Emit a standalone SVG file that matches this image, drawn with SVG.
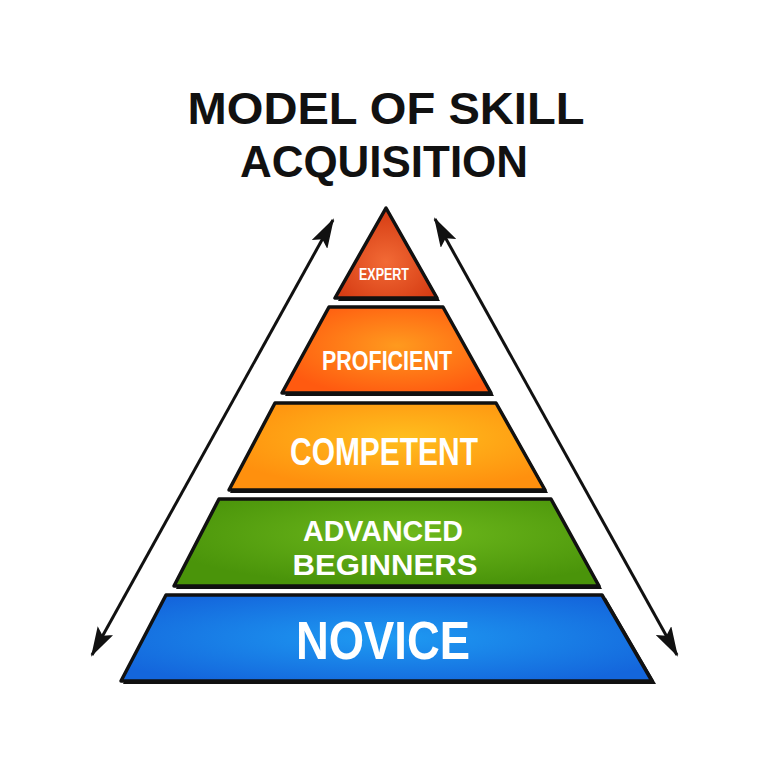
<svg xmlns="http://www.w3.org/2000/svg" width="768" height="768" viewBox="0 0 768 768">
  <defs>
    <radialGradient id="gExpert" cx="0.5" cy="0.6" r="0.6">
      <stop offset="0" stop-color="#F26A35"/>
      <stop offset="1" stop-color="#D43A12"/>
    </radialGradient>
    <radialGradient id="gProf" cx="0.55" cy="0.45" r="0.6">
      <stop offset="0" stop-color="#FF9A1E"/>
      <stop offset="1" stop-color="#FF5A10"/>
    </radialGradient>
    <radialGradient id="gComp" cx="0.55" cy="0.4" r="0.6">
      <stop offset="0" stop-color="#FFBE1E"/>
      <stop offset="1" stop-color="#FF900E"/>
    </radialGradient>
    <radialGradient id="gAdv" cx="0.55" cy="0.4" r="0.6">
      <stop offset="0" stop-color="#6DB81C"/>
      <stop offset="1" stop-color="#4A940A"/>
    </radialGradient>
    <radialGradient id="gNov" cx="0.5" cy="0.5" r="0.6">
      <stop offset="0" stop-color="#1E9AF2"/>
      <stop offset="1" stop-color="#1466DC"/>
    </radialGradient>
    <marker id="arrow" viewBox="0 0 30 18" refX="28" refY="9" markerWidth="30" markerHeight="18" markerUnits="userSpaceOnUse" orient="auto-start-reverse">
      <path d="M0,0 L30,9 L0,18 L6,9 Z" fill="#111"/>
    </marker>
  </defs>
  <style>
    .layer { stroke: #111; stroke-width: 3.5; stroke-linejoin: round; }
    .shadow { fill: #111; }
    .lbl { fill: #fff; font-family: "Liberation Sans", "Open Sans", sans-serif; font-weight: 700; text-anchor: middle; }
    .title { fill: #111; font-family: "Liberation Sans", "Open Sans", sans-serif; font-weight: 700; text-anchor: middle; }
    .conn { stroke: #111; stroke-width: 3; fill: none; }
  </style>
  <rect width="768" height="768" fill="#fff"/>

  <g id="title">
    <text class="title" x="386" y="124" font-size="45" textLength="397" lengthAdjust="spacingAndGlyphs">MODEL OF SKILL</text>
    <text class="title" x="384" y="177" font-size="45" textLength="288" lengthAdjust="spacingAndGlyphs">ACQUISITION</text>
  </g>

  <g id="connectors">
    <line class="conn" x1="333" y1="220" x2="92" y2="655" marker-start="url(#arrow)" marker-end="url(#arrow)"/>
    <line class="conn" x1="435" y1="219" x2="677" y2="655" marker-start="url(#arrow)" marker-end="url(#arrow)"/>
  </g>

  <g id="expert">
    <polygon class="shadow" points="388,210 338,301 440,301"/>
    <polygon class="layer" fill="url(#gExpert)" points="386,208 335,298 437,298"/>
    <text class="lbl" x="384" y="280" font-size="16" textLength="50" lengthAdjust="spacingAndGlyphs">EXPERT</text>
  </g>

  <g id="proficient">
    <polygon class="shadow" points="333,310 445,310 494,396 285,396"/>
    <polygon class="layer" fill="url(#gProf)" points="329,307 443,307 491,393 282,393"/>
    <text class="lbl" x="387" y="370" font-size="27" textLength="130" lengthAdjust="spacingAndGlyphs">PROFICIENT</text>
  </g>

  <g id="competent">
    <polygon class="shadow" points="279,406 499,406 548,493 230,493"/>
    <polygon class="layer" fill="url(#gComp)" points="275,403 496,403 545,490 229,490"/>
    <text class="lbl" x="384" y="465" font-size="38" textLength="188" lengthAdjust="spacingAndGlyphs">COMPETENT</text>
  </g>

  <g id="advanced-beginners">
    <polygon class="shadow" points="222,502 553,502 602,589 176,589"/>
    <polygon class="layer" fill="url(#gAdv)" points="219,499 551,499 599,586 174,586"/>
    <text class="lbl" x="383" y="541" font-size="29" textLength="160" lengthAdjust="spacingAndGlyphs">ADVANCED</text>
    <text class="lbl" x="385" y="575" font-size="29" textLength="185" lengthAdjust="spacingAndGlyphs">BEGINNERS</text>
  </g>

  <g id="novice">
    <polygon class="shadow" points="168,598 606,598 656,684 123,684"/>
    <polygon class="layer" fill="url(#gNov)" points="166,595 602,595 652,681 121,681"/>
    <text class="lbl" x="383" y="659" font-size="54" textLength="174" lengthAdjust="spacingAndGlyphs">NOVICE</text>
  </g>
</svg>
